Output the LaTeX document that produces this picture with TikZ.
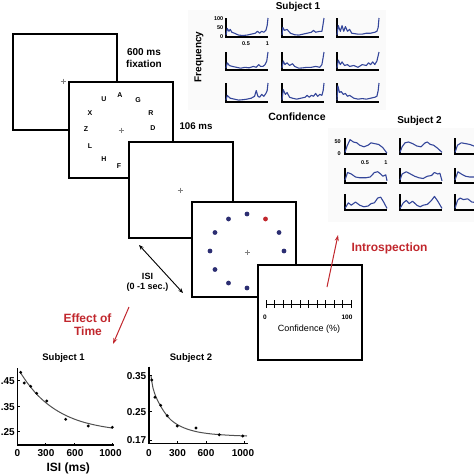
\documentclass[tikz,border=0pt]{standalone}
\usepackage{fontspec}
\setmainfont{Liberation Sans}
\usetikzlibrary{arrows.meta}
\definecolor{hblue}{HTML}{34469A}
\definecolor{dotblue}{HTML}{2C2E72}
\definecolor{ired}{HTML}{C1272D}
\definecolor{cgray}{HTML}{505050}
\newcommand{\fsz}[1]{\fontsize{#1}{#1}\selectfont}
\newcommand{\hplot}[5]{\begin{scope}[shift={(#1,#2)},x=#3pt,y=#4pt]\draw[haxis] (0,1)--(0,0)--(1,0);\draw[hline] plot coordinates {#5};\end{scope}}
\newcommand{\fixcross}[2]{\draw[fixc] (#1-2.5,#2)--(#1+2.5,#2) (#1,#2-2.5)--(#1,#2+2.5);}
\begin{document}
\begin{tikzpicture}[x=1pt,y=-1pt,
  frame/.style={draw=black,line width=1.4pt,fill=white,minimum width=104pt,minimum height=96pt,anchor=north west,inner sep=0pt,outer sep=0pt},
  fixc/.style={draw=black!50,line width=0.5pt},
  letter/.style={font=\bfseries\fsz{7},inner sep=0pt},
  lbl/.style={font=\bfseries\fsz{10},inner sep=0pt},
  small/.style={font=\bfseries\fsz{5.5},inner sep=0pt},
  redlbl/.style={font=\bfseries\fsz{12},text=ired,inner sep=0pt},
  haxis/.style={draw=black,line width=1.3pt},
  hline/.style={draw=hblue,line width=1.1pt,line join=round},
  baxis/.style={draw=black,line width=1.2pt},
  bcurve/.style={draw=cgray,line width=1pt},
  blbl/.style={font=\bfseries\fsz{10},inner sep=0pt},
  redarrow/.style={draw=ired,line width=1pt,-{Stealth[length=6pt,width=4pt]}},
  dot/.style={fill=dotblue}
]
\useasboundingbox (0,0) rectangle (474,474);
% faint panels
\fill[black!2] (188,10) rectangle (386,110);
\fill[black!2] (328,128) rectangle (474,222);

% ---------- frames ----------
\node[frame] (f1) at (13,34) {};
\fixcross{63}{81}
\node[frame] (f2) at (69,82) {};
\fixcross{121}{130}
\node[letter] (lA) at (120,95) {A};
\node[letter] (lG) at (138,100) {G};
\node[letter] (lR) at (151,113) {R};
\node[letter] (lD) at (153,128) {D};
\node[letter] (lF) at (119,166) {F};
\node[letter] (lH) at (104,159) {H};
\node[letter] (lL) at (90,146) {L};
\node[letter] (lZ) at (86,129) {Z};
\node[letter] (lX) at (90,113) {X};
\node[letter] (lU) at (104,99) {U};
\node[frame] (f3) at (129,142) {};
\fixcross{180}{190}
\node[frame,minimum height=95pt] (f4) at (192,202) {};
\fixcross{247}{252}
\foreach \a in {90,30,0,120,150,180,210,240,270,300,330}
  \fill[dot] ({247+37*cos(\a)},{251-37*sin(\a)}) circle[radius=2.4pt];
\fill[ired] ({247+37*cos(60)},{251-37*sin(60)}) circle[radius=2.4pt];
\node[frame,minimum height=95pt] (f5) at (258,265) {};
\draw[line width=0.8pt] (266,304)--(351,304);
\foreach \i in {0,...,10} \draw[line width=0.8pt] ({266+8.5*\i},300)--({266+8.5*\i},308);
\node[small,font=\bfseries\fsz{6.5}] (s0) at (265,317) {0};
\node[small,font=\bfseries\fsz{6.5}] (s100) at (347,317) {100};
\node[inner sep=0pt,font=\fsz{9}] (conf) at (309,329) {Confidence (\%)};

% frame labels
\node[lbl] (t600) at (144,52) {600 ms};
\node[lbl] (tfix) at (144,63.5) {fixation};
\node[lbl,font=\bfseries\fsz{9.7}] (t106) at (196,126) {106 ms};

% ISI arrow
\coordinate (isiA) at (139,245);
\coordinate (isiB) at (183,293);
\draw[line width=0.9pt,{Stealth[length=5pt,width=4pt]}-{Stealth[length=5pt,width=4pt]}] (isiA)--(isiB);
\node[lbl,font=\bfseries\fsz{9}] (isi) at (147.5,276) {ISI};
\node[lbl,font=\bfseries\fsz{9}] (isis) at (147.5,287.5) {(0 -1 sec.)};

% red arrows
\coordinate (inA) at (327,287);
\coordinate (inB) at (338,235);
\draw[redarrow] (inA)--(inB);
\node[redlbl] (intro) at (389.5,248) {Introspection};
\coordinate (efA) at (129,307);
\coordinate (efB) at (113,344);
\draw[redarrow] (efA)--(efB);
\node[redlbl] (eff1) at (87.5,318) {Effect of};
\node[redlbl] (eff2) at (88,331) {Time};

% ---------- Subject 1 histograms ----------
\node[lbl] (s1t) at (298,6.5) {Subject 1};
\node[lbl,rotate=90] (freq) at (199,57) {Frequency};
\node[lbl,font=\bfseries\fsz{10.5}] (confl) at (297,117) {Confidence};
\node[small,anchor=east] (y100) at (223.5,18.5) {100};
\node[small,anchor=east] (y50) at (223.5,28) {50};
\node[small,anchor=east] (y0) at (223.5,37) {0};
\node[small] (x05) at (246,43.5) {0.5};
\node[small] (x1) at (267.5,43.5) {1};
\hplot{226}{37}{42}{19}{(0,0.1)(0.03,0.45)(0.07,0.3)(0.1,0.4)(0.14,0.25)(0.2,0.2)(0.3,0.1)(0.4,0.08)(0.5,0.1)(0.6,0.15)(0.7,0.2)(0.75,0.3)(0.8,0.2)(0.85,0.3)(0.9,0.25)(0.95,0.35)(0.98,0.6)(1,1)}
\hplot{282}{37}{42}{19}{(0,0.1)(0.02,0.5)(0.06,0.35)(0.12,0.4)(0.2,0.2)(0.3,0.12)(0.4,0.1)(0.5,0.15)(0.6,0.2)(0.7,0.25)(0.75,0.35)(0.8,0.25)(0.9,0.3)(0.95,0.3)(0.98,0.7)(1,1)}
\hplot{337}{37}{42}{19}{(0,0.1)(0.03,0.6)(0.08,0.3)(0.12,0.6)(0.16,0.3)(0.2,0.55)(0.25,0.3)(0.3,0.4)(0.35,0.2)(0.5,0.15)(0.6,0.15)(0.7,0.2)(0.8,0.2)(0.9,0.25)(0.95,0.3)(0.98,0.5)(1,1)}
\hplot{226}{70}{42}{18}{(0,0.1)(0.03,0.4)(0.08,0.25)(0.15,0.2)(0.25,0.15)(0.35,0.1)(0.45,0.15)(0.55,0.12)(0.65,0.2)(0.72,0.15)(0.78,0.3)(0.82,0.2)(0.88,0.2)(0.93,0.3)(0.97,0.5)(1,1)}
\hplot{282}{70}{42}{18}{(0,0.1)(0.03,0.5)(0.07,0.3)(0.12,0.4)(0.18,0.25)(0.25,0.35)(0.3,0.2)(0.4,0.1)(0.5,0.12)(0.6,0.15)(0.7,0.15)(0.8,0.2)(0.9,0.15)(0.95,0.3)(0.98,0.7)(1,1)}
\hplot{337}{70}{42}{18}{(0,0.1)(0.03,0.55)(0.08,0.3)(0.12,0.45)(0.18,0.25)(0.25,0.3)(0.3,0.2)(0.4,0.25)(0.5,0.15)(0.6,0.3)(0.7,0.25)(0.75,0.4)(0.8,0.3)(0.85,0.45)(0.9,0.3)(0.95,0.5)(1,1)}
\hplot{226}{102}{42}{19}{(0,0.1)(0.03,0.35)(0.1,0.2)(0.2,0.15)(0.3,0.1)(0.4,0.12)(0.5,0.15)(0.6,0.2)(0.68,0.3)(0.72,0.6)(0.76,0.3)(0.8,0.25)(0.85,0.4)(0.9,0.3)(0.95,0.45)(0.98,0.6)(1,1)}
\hplot{282}{102}{42}{19}{(0,0.1)(0.03,0.65)(0.08,0.4)(0.12,0.5)(0.18,0.25)(0.25,0.2)(0.35,0.15)(0.45,0.2)(0.55,0.25)(0.6,0.35)(0.65,0.25)(0.7,0.35)(0.75,0.3)(0.8,0.45)(0.85,0.3)(0.9,0.4)(0.95,0.35)(0.98,0.6)(1,1)}
\hplot{337}{102}{42}{19}{(0,0.1)(0.02,0.85)(0.06,0.5)(0.1,0.55)(0.15,0.4)(0.2,0.45)(0.25,0.3)(0.3,0.35)(0.4,0.2)(0.5,0.15)(0.6,0.18)(0.7,0.15)(0.8,0.2)(0.9,0.25)(0.95,0.3)(0.98,0.6)(1,1)}

% ---------- Subject 2 histograms ----------
\node[lbl] (s2t) at (419.5,121) {Subject 2};
\node[small,anchor=east] (z50) at (341,142) {50};
\node[small,anchor=east] (z0) at (341,154) {0};
\node[small] (z05) at (365,163) {0.5};
\node[small] (z1) at (386,163) {1};
\hplot{345}{154}{42}{16}{(0,0.1)(0.05,0.5)(0.12,0.9)(0.2,0.75)(0.28,0.7)(0.35,0.55)(0.45,0.45)(0.55,0.55)(0.62,0.7)(0.7,0.65)(0.8,0.6)(0.9,0.4)(1,0.05)}
\hplot{400}{154}{42}{16}{(0,0.1)(0.05,0.45)(0.12,0.7)(0.2,0.75)(0.3,0.65)(0.4,0.5)(0.5,0.45)(0.6,0.7)(0.65,0.75)(0.72,0.6)(0.8,0.55)(0.9,0.35)(1,0.1)}
\hplot{455}{154}{42}{16}{(0,0.1)(0.06,0.55)(0.15,0.7)(0.25,0.65)(0.35,0.6)(0.45,0.5)(0.55,0.55)(0.7,0.7)(0.85,0.5)(1,0.1)}
\hplot{345}{183}{42}{15}{(0,0.2)(0.06,0.7)(0.15,0.6)(0.25,0.4)(0.35,0.35)(0.5,0.35)(0.6,0.4)(0.7,0.7)(0.78,0.75)(0.85,0.6)(0.9,0.45)(0.97,0.55)(1,0.15)}
\hplot{400}{183}{42}{15}{(0,0.2)(0.05,0.6)(0.15,0.75)(0.25,0.6)(0.35,0.45)(0.45,0.35)(0.55,0.3)(0.65,0.45)(0.75,0.5)(0.82,0.7)(0.9,0.6)(0.95,0.65)(1,0.15)}
\hplot{455}{183}{42}{15}{(0,0.2)(0.07,0.75)(0.15,0.6)(0.25,0.45)(0.35,0.4)(0.5,0.4)(0.7,0.6)(0.85,0.5)(1,0.1)}
\hplot{345}{210}{42}{16}{(0,0.1)(0.08,0.45)(0.15,0.3)(0.25,0.5)(0.35,0.3)(0.45,0.2)(0.55,0.25)(0.62,0.4)(0.7,0.45)(0.78,0.75)(0.85,0.8)(0.92,0.5)(1,0.1)}
\hplot{400}{210}{42}{16}{(0,0.1)(0.08,0.45)(0.15,0.6)(0.22,0.4)(0.3,0.55)(0.4,0.3)(0.48,0.2)(0.55,0.3)(0.65,0.35)(0.75,0.6)(0.82,0.85)(0.9,0.55)(1,0.1)}
\hplot{455}{210}{42}{16}{(0,0.1)(0.06,0.6)(0.12,0.75)(0.2,0.65)(0.3,0.7)(0.4,0.5)(0.55,0.45)(0.7,0.6)(0.85,0.5)(1,0.1)}

% ---------- bottom plots ----------
\node[lbl,font=\bfseries\fsz{9.5}] (b1t) at (63.5,358.5) {Subject 1};
\node[lbl,font=\bfseries\fsz{9.5}] (b2t) at (191,358.5) {Subject 2};
% subject 1
\draw[baxis] (17.3,368)--(17.3,445)--(114,445);
\foreach \x in {45.7,74.1,112} \draw[baxis,line width=0.7pt] (\x,445)--(\x,442.5);
\foreach \y in {380.7,406.7,431.7} \draw[baxis,line width=0.7pt] (17.3,\y)--(19.8,\y);
\node[blbl,anchor=east] (a45) at (15,380.7) {.45};
\node[blbl,anchor=east] (a35) at (15,406.7) {.35};
\node[blbl,anchor=east] (a25) at (15,431.7) {.25};
\node[blbl] (ax0) at (17.3,453.5) {0};
\node[blbl] (ax300) at (46,453.5) {300};
\node[blbl] (ax600) at (75,453.5) {600};
\node[blbl] (ax1000) at (110.5,453.5) {1000};
\draw[bcurve] plot[smooth] coordinates {(20.1,372.1)(26.8,382.1)(36.2,393.7)(45.7,402.6)(55.2,409.5)(64.7,414.9)(74.1,419.0)(83.6,422.2)(93.1,424.6)(102.5,426.5)(112,428.0)};
\foreach \p in {(20.7,372.3),(24.3,383),(30.7,386.3),(36.7,393.3),(46.7,401),(65.7,419.3),(88.3,426),(112.3,427.3)}
  \fill \p circle[radius=1.6pt];
% subject 2
\draw[baxis] (149,366.7)--(149,443.3)--(248,443.3);
\foreach \x in {177.5,206,244} \draw[baxis,line width=0.7pt] (\x,443.3)--(\x,440.8);
\foreach \y in {375.7,411.7,440} \draw[baxis,line width=0.7pt] (149,\y)--(151.5,\y);
\node[blbl,anchor=east] (b35) at (146.5,375.7) {0.35};
\node[blbl,anchor=east] (b25) at (146.5,411.7) {0.25};
\node[blbl,anchor=east] (b17) at (146.5,440) {0.17};
\node[blbl] (bx0) at (149,453.5) {0};
\node[blbl] (bx300) at (177.5,453.5) {300};
\node[blbl] (bx600) at (206,453.5) {600};
\node[blbl] (bx1000) at (243,453.5) {1000};
\draw[bcurve] plot[smooth] coordinates {(151,376)(153,388)(156,397)(160,405)(165,413)(171,420)(178,425)(187,429)(198,432)(212,434)(230,435.3)(247,436)};
\foreach \p in {(151.7,380),(155,397.3),(160.7,405.3),(167.3,415.7),(177.3,426),(196,428),(219.3,434.7),(242.7,436)}
  \fill \p circle[radius=1.6pt];
\node[blbl,font=\bfseries\fsz{12}] (isims) at (68.3,468.3) {ISI (ms)};
\end{tikzpicture}
\end{document}
